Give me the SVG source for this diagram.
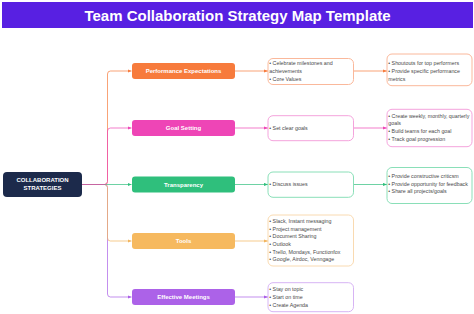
<svg xmlns="http://www.w3.org/2000/svg" width="474" height="314" viewBox="0 0 474 314">
<style>
.title{font-family:"Liberation Sans",Arial,sans-serif;font-size:15px;font-weight:bold;fill:#fff;text-anchor:middle}
.root{font-family:"Liberation Sans",Arial,sans-serif;font-size:6px;font-weight:bold;fill:#fff;text-anchor:middle}
.lbl{font-family:"Liberation Sans",Arial,sans-serif;font-size:6px;font-weight:bold;fill:#fff;text-anchor:middle}
.t{font-family:"Liberation Sans",Arial,sans-serif;font-size:5.3px;fill:#4a4a4a}
.box{fill:#fff;stroke-width:0.9}
.c{fill:none;stroke-width:0.7}
</style>
<defs>
<marker id="mo" markerUnits="userSpaceOnUse" markerWidth="4" markerHeight="4" refX="4" refY="2" orient="auto"><path d="M0,0.4 L4,2 L0,3.6 z" fill="#f77b3c"/></marker>
<marker id="mp" markerUnits="userSpaceOnUse" markerWidth="4" markerHeight="4" refX="4" refY="2" orient="auto"><path d="M0,0.4 L4,2 L0,3.6 z" fill="#ee45b6"/></marker>
<marker id="mg" markerUnits="userSpaceOnUse" markerWidth="4" markerHeight="4" refX="4" refY="2" orient="auto"><path d="M0,0.4 L4,2 L0,3.6 z" fill="#2fbf7c"/></marker>
<marker id="my" markerUnits="userSpaceOnUse" markerWidth="4" markerHeight="4" refX="4" refY="2" orient="auto"><path d="M0,0.4 L4,2 L0,3.6 z" fill="#f2b45c"/></marker>
<marker id="mv" markerUnits="userSpaceOnUse" markerWidth="4" markerHeight="4" refX="4" refY="2" orient="auto"><path d="M0,0.4 L4,2 L0,3.6 z" fill="#a95ee6"/></marker>
</defs>

<g id="title">
<rect x="2" y="2" width="471" height="26" fill="#5820e2"/>
<text class="title" x="237.5" y="20.5">Team Collaboration Strategy Map Template</text>
</g>

<g id="connectors">
<path class="c" stroke="#a95ee6" marker-end="url(#mv)" d="M82,184.5 H104.5 Q107.5,184.5 107.5,187.5 V294 Q107.5,297 110.5,297 H131.5"/>
<path class="c" stroke="#f2b45c" marker-end="url(#my)" d="M82,184.5 H104.5 Q107.5,184.5 107.5,187.5 V238 Q107.5,241 110.5,241 H131.5"/>
<path class="c" stroke="#f77b3c" marker-end="url(#mo)" d="M82,184.5 H104.5 Q107.5,184.5 107.5,181.5 V74 Q107.5,71 110.5,71 H131.5"/>
<path class="c" stroke="#2fbf7c" marker-end="url(#mg)" d="M82,184.5 H131.5"/>
<path class="c" stroke="#ee45b6" marker-end="url(#mp)" d="M82,184.5 H104.5 Q107.5,184.5 107.5,181.5 V131 Q107.5,128 110.5,128 H131.5"/>
<path class="c" stroke="#f77b3c" marker-end="url(#mo)" d="M235,71 H268"/>
<path class="c" stroke="#ee45b6" marker-end="url(#mp)" d="M235,128 H268"/>
<path class="c" stroke="#2fbf7c" marker-end="url(#mg)" d="M235,184.5 H268"/>
<path class="c" stroke="#f2b45c" marker-end="url(#my)" d="M235,241 H268"/>
<path class="c" stroke="#a95ee6" marker-end="url(#mv)" d="M235,297 H268"/>
<path class="c" stroke="#f77b3c" marker-end="url(#mo)" d="M353.5,71 H387"/>
<path class="c" stroke="#ee45b6" marker-end="url(#mp)" d="M353.5,128 H387"/>
<path class="c" stroke="#2fbf7c" marker-end="url(#mg)" d="M353.5,184.5 H387"/>
</g>

<g id="root">
<rect x="3" y="172" width="79" height="25" rx="4" fill="#1c2a4b"/>
<text class="root" x="42.5" y="182.2">COLLABORATION</text>
<text class="root" x="42.5" y="189.6">STRATEGIES</text>
</g>

<g id="performance">
<rect x="132" y="63" width="103" height="16" rx="3" fill="#f77b3c"/>
<text class="lbl" x="183.5" y="73.2">Performance Expectations</text>
</g>
<g id="goal">
<rect x="132" y="120" width="103" height="16" rx="3" fill="#ee45b6"/>
<text class="lbl" x="183.5" y="130.2">Goal Setting</text>
</g>
<g id="transparency">
<rect x="132" y="176.5" width="103" height="16" rx="3" fill="#2fbf7c"/>
<text class="lbl" x="183.5" y="186.7">Transparency</text>
</g>
<g id="tools">
<rect x="132" y="233" width="103" height="16" rx="3" fill="#f6b95f"/>
<text class="lbl" x="183.5" y="243.2">Tools</text>
</g>
<g id="meetings">
<rect x="132" y="289" width="103" height="16" rx="3" fill="#ac62e8"/>
<text class="lbl" x="183.5" y="299.2">Effective Meetings</text>
</g>

<g id="perf-l2">
<rect class="box" x="268" y="58.5" width="85.5" height="26" rx="5" stroke="#f9b090"/>
<text class="t" x="269.3" y="65.2">• Celebrate milestones and</text>
<text class="t" x="269.3" y="72.9">achievements</text>
<text class="t" x="269.3" y="80.6">• Core Values</text>
</g>
<g id="perf-l3">
<rect class="box" x="387" y="54" width="85" height="31.7" rx="5" stroke="#f9b090"/>
<text class="t" x="388.3" y="65.2">• Shoutouts for top performers</text>
<text class="t" x="388.3" y="72.9">• Provide specific performance</text>
<text class="t" x="388.3" y="80.6">metrics</text>
</g>
<g id="goal-l2">
<rect class="box" x="268" y="115.7" width="85.5" height="25" rx="5" stroke="#f398d8"/>
<text class="t" x="269.3" y="129.6">• Set clear goals</text>
</g>
<g id="goal-l3">
<rect class="box" x="387" y="109.3" width="85" height="37.4" rx="5" stroke="#f398d8"/>
<text class="t" x="388.3" y="117.7">• Create weekly, monthly, quarterly</text>
<text class="t" x="388.3" y="125.4">goals</text>
<text class="t" x="388.3" y="133.1">• Build teams for each goal</text>
<text class="t" x="388.3" y="140.8">• Track goal progression</text>
</g>
<g id="transp-l2">
<rect class="box" x="268" y="172" width="85.5" height="25.3" rx="5" stroke="#7ddbb0"/>
<text class="t" x="269.3" y="186.1">• Discuss issues</text>
</g>
<g id="transp-l3">
<rect class="box" x="387" y="167.5" width="85" height="36" rx="5" stroke="#7ddbb0"/>
<text class="t" x="388.3" y="177.9">• Provide constructive criticsm</text>
<text class="t" x="388.3" y="185.6">• Provide opportunity for feedback</text>
<text class="t" x="388.3" y="193.3">• Share all projects/goals</text>
</g>
<g id="tools-l2">
<rect class="box" x="268" y="215" width="85.5" height="51" rx="5" stroke="#f8d6a8"/>
<text class="t" x="269.3" y="222.9">• Slack, Instant messaging</text>
<text class="t" x="269.3" y="230.6">• Project management</text>
<text class="t" x="269.3" y="238.3">• Document Sharing</text>
<text class="t" x="269.3" y="246">• Outlook</text>
<text class="t" x="269.3" y="253.7">• Trello, Mondays, Functionfox</text>
<text class="t" x="269.3" y="261.4">• Google, Airdoc, Venngage</text>
</g>
<g id="meetings-l2">
<rect class="box" x="268" y="282.7" width="85.5" height="29" rx="5" stroke="#d2acf3"/>
<text class="t" x="269.3" y="291.2">• Stay on topic</text>
<text class="t" x="269.3" y="298.9">• Start on time</text>
<text class="t" x="269.3" y="306.6">• Create Agenda</text>
</g>
</svg>
